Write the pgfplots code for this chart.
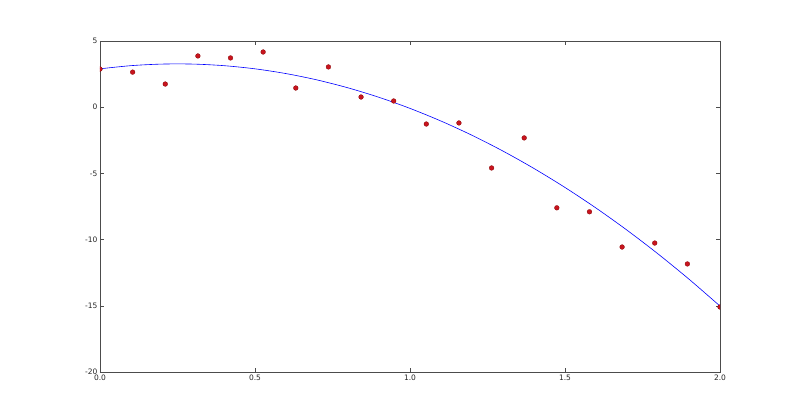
\documentclass[border=0pt]{standalone}
\usepackage{pgfplots}
\pgfplotsset{compat=1.18}
\usepackage{fontspec}
\setmainfont{DejaVu Sans}
\begin{document}
\begin{tikzpicture}[x=1pt,y=1pt]
\begin{axis}[
  at={(0,0)}, anchor=south west,
  scale only axis, width=620pt, height=331pt,
  xmin=0, xmax=2, ymin=-20, ymax=5,
  xtick={0,0.5,1,1.5,2}, ytick={-20,-15,-10,-5,0,5},
  xticklabel style={/pgf/number format/fixed, /pgf/number format/fixed zerofill, /pgf/number format/precision=1, yshift=1pt},
  /pgf/number format/assume math mode=true,
  tick label style={font=\fontsize{7.5}{9}\selectfont, text=black!85},
  tick align=inside, major tick length=4pt,
  xtick pos=both, ytick pos=both,
  axis line style={black!70, line width=0.6pt},
  tick style={black!70, line width=0.5pt},
  yticklabel style={xshift=1pt},
  clip=true, clip marker paths=true,
]
\addplot[blue, line width=0.6pt, smooth] coordinates {
(0,2.9) (0.1,3.138) (0.2,3.257) (0.3,3.257) (0.4,3.137) (0.5,2.898)
(0.6,2.539) (0.7,2.061) (0.8,1.463) (0.9,0.746) (1.0,-0.09) (1.1,-1.046)
(1.2,-2.121) (1.3,-3.315) (1.4,-4.629) (1.5,-6.063) (1.6,-7.615)
(1.7,-9.287) (1.8,-11.079) (1.9,-12.99) (2.0,-15.02)};
\addplot[only marks, mark=*, mark size=2.4pt,
  mark options={fill={rgb,255:red,200;green,20;blue,30}, draw=black!50!red, line width=0.25pt}]
coordinates {
(0,2.88) (0.10526,2.65) (0.21053,1.75) (0.31579,3.87) (0.42105,3.72)
(0.52632,4.17) (0.63158,1.45) (0.73684,3.04) (0.84211,0.77) (0.94737,0.47)
(1.05263,-1.27) (1.15789,-1.19) (1.26316,-4.59) (1.36842,-2.32)
(1.47368,-7.6) (1.57895,-7.9) (1.68421,-10.56) (1.78947,-10.26)
(1.89474,-11.84) (2.0,-15.09)};
\end{axis}
\useasboundingbox (-100,-43) rectangle (700,372);
\end{tikzpicture}
\end{document}
